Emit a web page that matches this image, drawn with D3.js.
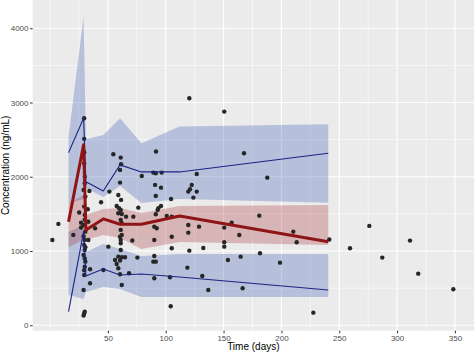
<!DOCTYPE html>
<html>
<head>
<meta charset="utf-8">
<script src="https://cdn.jsdelivr.net/npm/d3@7"></script>
<style>
  body { margin: 0; background: #fff; }
  svg { display: block; font-family: "Liberation Sans", Arial, sans-serif; }
</style>
</head>
<body>
<div id="vpc"></div>
<script>
// bins (days) used for the percentile lines and the shaded intervals
var binDays = [16, 29, 31, 46, 60.5, 79, 112, 240.5];

// observed percentiles
var obsMedian = [1395, 2430, 1284, 1432, 1360, 1360, 1472, 1126];
var obsP95    = [2325, 2788, 1934, 1809, 2160, 2065, 2065, 2317];
var obsP05    = [183, 1261, 664, 758, 678, 691, 651, 475];

// simulated confidence intervals
var p95Lo = [1643, 1700, 1850, 1728, 1876, 1647, 1701, 1651];
var p95Hi = [2540, 4157, 2505, 2563, 2788, 2451, 2675, 2707];
var medLo = [1055, 1150, 1149, 1216, 1176, 1028, 1122, 1082];
var medHi = [1647, 1750, 1486, 1567, 1580, 1513, 1607, 1620];
var p05Lo = [408, 354, 449, 516, 489, 381, 381, 381];
var p05Hi = [1257, 1351, 987, 1095, 1028, 933, 960, 960];

// observations
var obsTime = [
  2.0, 7.2, 20.1, 25.2, 26.8, 26.8,
  29.5, 29.5, 29.5, 29.5, 30, 30, 29, 30.5, 29.5, 30, 29, 30.5, 30, 29.5, 30, 29, 30.5, 30, 29.5, 30, 29, 30.5, 30, 29.5, 29, 30, 29.5, 29,
  34, 32.6, 33.1, 33.1, 34.6, 34.6,
  38.9, 44.1, 46.1, 50.4, 51.3, 54.7,
  61.1, 61.4, 60.5, 60.5, 59, 61.4, 57.6, 59.7, 61.1, 59, 62, 61.1, 62, 61.1, 62, 60.5, 61.1, 61.1, 61.1, 59, 62, 56.2, 60.5, 57.6, 59, 60.5, 62, 65.7, 64.8,
  68.3, 71.1, 72, 75.5, 76.3, 79.3,
  91.6, 89.3, 91.4, 96.5, 90.8, 95.9, 91.4, 95.9, 93.6, 93, 91.4, 90.1, 92.2, 90.1, 90.1, 89.3, 91.4, 90.1,
  104.6, 100.9, 105.2, 105.2, 105.2, 103.7, 104.3,
  120.4, 126.8, 122.5, 121, 119.5, 126.8, 123.9, 119.5, 119.5, 128.8, 120.4, 132.5, 118.7, 131.6, 136.8,
  150.6, 167.7, 157, 150.6, 163.6, 150.6, 150.6, 164.8, 153.8, 166.5,
  187.8, 180.9, 181.5, 198.8, 210.3, 213.2, 227.6, 241.4,
  259.3, 276, 287.2, 311.2, 318.3, 348.6
];
var obsConc = [
  1149, 1365, 1217, 1519, 1382, 1317,
  2788, 2510, 2330, 2180, 2002, 1913, 1823, 1733, 1598, 1486, 1351, 1261, 1149, 1082, 1014, 947, 857, 789, 678, 1420, 1200, 1050, 900, 740, 475, 183, 160, 130,
  1809, 1563, 1395, 1149, 754, 566,
  1307, 1657, 745, 1059, 1800, 2303,
  2258, 2169, 2092, 1921, 1755, 1688, 1607, 1576, 1553, 1509, 1499, 1418, 1374, 1284, 1216, 1193, 1149, 1105, 1014, 924, 916, 880, 873, 826, 768, 687, 543, 1463, 916,
  700, 1142, 1463, 911, 1584, 2011,
  2339, 2056, 2047, 2056, 1890, 1853, 1742, 1607, 1576, 1553, 1495, 1328, 1307, 1149, 933, 857, 857, 633,
  1701, 1472, 1463, 1193, 1037, 647, 256,
  3058, 2038, 1890, 1832, 1800, 1800, 1719, 1351, 1247, 1328, 1005, 1041, 776, 664, 475,
  2877, 2317, 1382, 1315, 1216, 1118, 1059, 924, 880, 498,
  1988, 1476, 970, 843, 1261, 1118, 170, 1156,
  1037, 1338, 911, 1140, 695, 485
];

var xTicks = [50, 100, 150, 200, 250, 300, 350];
var yTicks = [0, 1000, 2000, 3000, 4000];

var width = 474, height = 353;
var panel = {left: 32.7, top: 0, right: 474, bottom: 330.7};

var xScale = d3.scaleLinear().domain([-15, 366.5]).range([panel.left, panel.right]);
var yScale = d3.scaleLinear().domain([-73, 4380]).range([panel.bottom, panel.top]);

var svg = d3.select("#vpc").append("svg")
  .attr("width", width)
  .attr("height", height);

svg.append("rect")
  .attr("x", panel.left).attr("y", panel.top)
  .attr("width", panel.right - panel.left)
  .attr("height", panel.bottom - panel.top)
  .attr("fill", "#EBEBEB");

// grid: minor then major
var xMinor = [0, 25, 75, 125, 175, 225, 275, 325];
var yMinor = [500, 1500, 2500, 3500];
var grid = svg.append("g");
grid.selectAll(".xmin").data(xMinor).join("line")
  .attr("class", "xmin")
  .attr("x1", d => xScale(d)).attr("x2", d => xScale(d))
  .attr("y1", panel.top).attr("y2", panel.bottom)
  .attr("stroke", "#fff").attr("stroke-width", 0.55);
grid.selectAll(".ymin").data(yMinor).join("line")
  .attr("class", "ymin")
  .attr("x1", panel.left).attr("x2", panel.right)
  .attr("y1", d => yScale(d)).attr("y2", d => yScale(d))
  .attr("stroke", "#fff").attr("stroke-width", 0.55);
grid.selectAll(".xmaj").data(xTicks).join("line")
  .attr("class", "xmaj")
  .attr("x1", d => xScale(d)).attr("x2", d => xScale(d))
  .attr("y1", panel.top).attr("y2", panel.bottom)
  .attr("stroke", "#fff").attr("stroke-width", 1.1);
grid.selectAll(".ymaj").data(yTicks).join("line")
  .attr("class", "ymaj")
  .attr("x1", panel.left).attr("x2", panel.right)
  .attr("y1", d => yScale(d)).attr("y2", d => yScale(d))
  .attr("stroke", "#fff").attr("stroke-width", 1.1);

// shaded intervals
function band(lo, hi, fill) {
  var area = d3.area()
    .x((d, i) => xScale(binDays[i]))
    .y0((d, i) => yScale(lo[i]))
    .y1((d, i) => yScale(hi[i]));
  svg.append("path")
    .datum(binDays)
    .attr("d", area)
    .attr("fill", fill)
    .attr("fill-opacity", 0.3);
}
band(p95Lo, p95Hi, "rgb(62,92,182)");
band(p05Lo, p05Hi, "rgb(62,92,182)");
band(medLo, medHi, "rgb(170,55,60)");

// observed points
svg.append("g").selectAll("circle")
  .data(obsTime)
  .join("circle")
  .attr("cx", d => xScale(d))
  .attr("cy", (d, i) => yScale(obsConc[i]))
  .attr("r", 2.2)
  .attr("fill", "#262626");

// observed percentile lines
function pline(vals, color, w) {
  var line = d3.line()
    .x((d, i) => xScale(binDays[i]))
    .y(d => yScale(d));
  svg.append("path")
    .datum(vals)
    .attr("d", line)
    .attr("fill", "none")
    .attr("stroke", color)
    .attr("stroke-width", w)
    .attr("stroke-linejoin", "round");
}
pline(obsP95, "#1B2380", 1.1);
pline(obsP05, "#1B2380", 1.1);
pline(obsMedian, "#8E1416", 3);

// axes
var yAxis = svg.append("g")
  .attr("transform", `translate(${panel.left},0)`)
  .call(d3.axisLeft(yScale).tickValues(yTicks).tickFormat(d3.format("d")).tickSize(2.7).tickPadding(1.5));
var xAxis = svg.append("g")
  .attr("transform", `translate(0,${panel.bottom})`)
  .call(d3.axisBottom(xScale).tickValues(xTicks).tickFormat(d3.format("d")).tickSize(2.7).tickPadding(1.5));
[xAxis, yAxis].forEach(function(a) {
  a.select(".domain").remove();
  a.selectAll(".tick line").attr("stroke", "#333").attr("stroke-width", 1);
  a.selectAll(".tick text")
    .attr("fill", "#4D4D4D")
    .style("font-size", "8px")
    .style("font-family", "'Liberation Sans', Arial, sans-serif");
});

svg.append("text")
  .attr("x", (panel.left + panel.right) / 2)
  .attr("y", 350)
  .attr("text-anchor", "middle")
  .style("font-size", "10px")
  .attr("fill", "#000")
  .text("Time (days)");

svg.append("text")
  .attr("x", 0)
  .attr("y", 0)
  .attr("text-anchor", "middle")
  .attr("transform", "translate(8.5," + ((panel.top + panel.bottom) / 2) + ") rotate(-90)")
  .style("font-size", "10px")
  .attr("fill", "#000")
  .text("Concentration (ng/mL)");
</script>
</body>
</html>
